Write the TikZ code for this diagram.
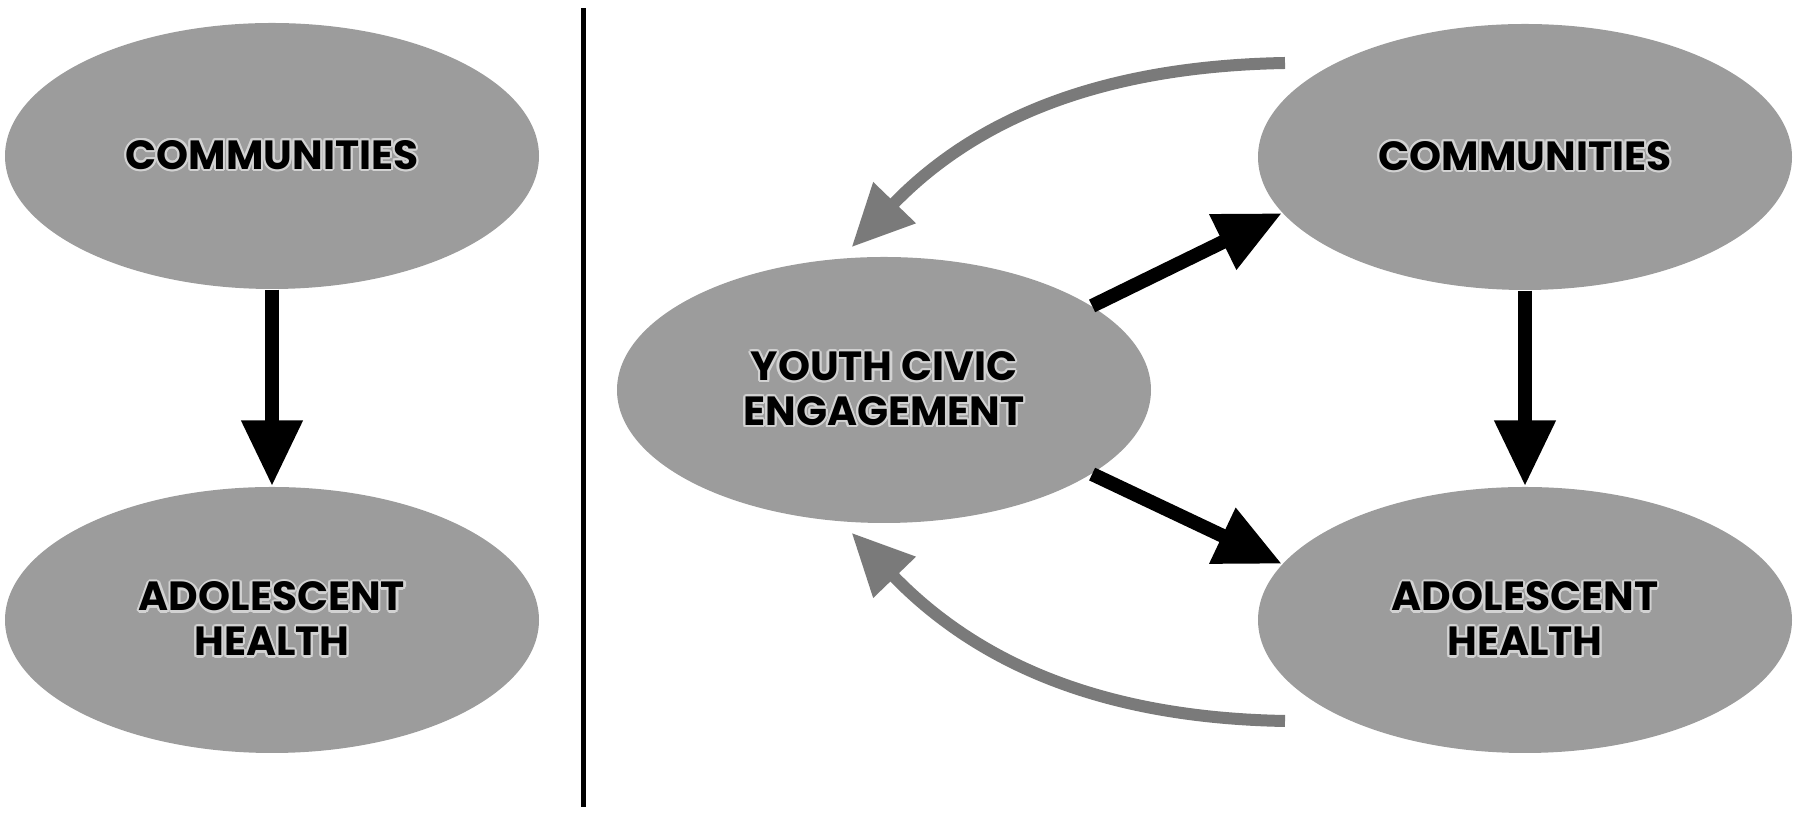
\documentclass[tikz,border=0pt]{standalone}
\usepackage{fontspec}
\setmainfont{Poppins}
\usepackage{contour}
\contourlength{0.6pt}
\definecolor{ovalgray}{RGB}{156,156,156}
\definecolor{loopgray}{RGB}{122,122,122}
\usetikzlibrary{arrows.meta,positioning,shapes.geometric,calc}
\newcommand{\glow}[1]{\contour{white!55!ovalgray}{#1}}

\begin{document}
\begin{tikzpicture}[every node/.style={font=\bfseries\fontsize{11.6}{12.8}\selectfont},
  oval/.style={ellipse, fill=ovalgray, minimum width=5.34cm, minimum height=2.66cm, inner sep=0pt, align=center},
  fwd/.style={-{Triangle[length=0.66cm,width=0.58cm]}, line width=0.14cm, black},
  back/.style={-{Triangle[length=0.62cm,width=0.56cm]}, line width=0.12cm, loopgray}]
\useasboundingbox (0,0) rectangle (18,8.17);
% Left panel
\node[oval] (comL) at (2.72,6.61) {\glow{COMMUNITIES}};
\node[oval] (adoL) at (2.72,1.97) {\glow{ADOLESCENT}\\\glow{HEALTH}};
\draw[fwd] (comL.south) -- (adoL.north);
% Divider
\node[inner sep=0pt] (topD) at (5.83,8.11) {};
\node[inner sep=0pt] (botD) at (5.83,0.08) {};
\draw[line width=0.05cm] (topD) -- (botD);
% Right panel
\node[oval] (yce) at (8.84,4.27) {\glow{YOUTH CIVIC}\\\glow{ENGAGEMENT}};
\node[oval] (comR) at (15.25,6.60) {\glow{COMMUNITIES}};
\node[oval] (adoR) at (15.25,1.97) {\glow{ADOLESCENT}\\\glow{HEALTH}};
\draw[fwd] (comR.south) -- (adoR.north);
\draw[fwd] (yce.22) -- (comR.193);
\draw[fwd] (yce.-22) -- (adoR.167);
% Feedback loops
\coordinate (fbTop) at (12.85,7.54);
\coordinate (fbBot) at (12.85,0.96);
\draw[back, shorten >=0.15cm] (fbTop) to[out=181, in=46] (yce.108);
\draw[back, shorten >=0.15cm] (fbBot) to[out=179, in=-46] (yce.-108);
\end{tikzpicture}
\end{document}
